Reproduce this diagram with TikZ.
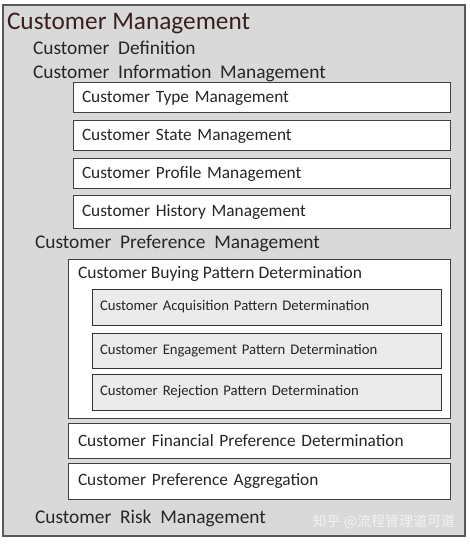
\documentclass[tikz,border=0pt]{standalone}
\usepackage{fontspec}
\setmainfont{Carlito}
\newfontfamily\cjk{Noto Sans CJK SC}
\definecolor{panelgray}{HTML}{D9D9D9}
\definecolor{subgray}{HTML}{EBEBEB}
\definecolor{titlered}{HTML}{3A1F1F}
\definecolor{inkgray}{HTML}{262626}
\begin{document}
\begin{tikzpicture}[x=1pt,y=-1pt,inner sep=0pt,outer sep=0pt,
lvlone/.style={anchor=west,text=inkgray,font=\fontsize{19.4}{22}\selectfont},
whitebox/.style={draw=black!75,fill=white,line width=1pt,anchor=north west,inner xsep=9pt,align=left,text=inkgray,font=\fontsize{17.3}{20}\selectfont},
graybox/.style={draw=black!80,fill=subgray,line width=1pt,anchor=north west,inner xsep=8pt,align=left,text=inkgray,font=\fontsize{14.7}{17}\selectfont}]

\useasboundingbox (0,0) rectangle (469,545);
\draw (3,5) node[draw=black!65,fill=panelgray,line width=1.5pt,anchor=north west,minimum width=462pt,minimum height=531pt] (panel) {};

\draw (7,23) node[anchor=west,text=titlered,font=\fontsize{25.3}{29}\selectfont] (title) {Customer Management};
\draw (33,48) node[lvlone] (def) {Customer\ \ Definition};
\draw (33,73) node[lvlone] (info) {Customer\ \ Information\ \ Management};

\draw (73,83) node[whitebox,text width=359pt,minimum height=30pt] (type) {Customer Type Management};
\draw (73,121) node[whitebox,text width=359pt,minimum height=30pt] (state) {Customer State Management};
\draw (73,159) node[whitebox,text width=359pt,minimum height=30pt] (profile) {Customer Profile Management};
\draw (73,196) node[whitebox,text width=359pt,minimum height=32pt] (history) {Customer History Management};

\draw (35,244) node[lvlone] (pref) {Customer\ \ Preference\ \ Management};

\draw (68,259) node[whitebox,text width=364pt,minimum height=159pt] (buybox) {};
\draw (78,274) node[anchor=west,text=inkgray,font=\fontsize{17.5}{20}\selectfont] (buying) {Customer Buying Pattern Determination};
\draw (92,289) node[graybox,text width=333pt,minimum height=36pt] (acq) {Customer\ Acquisition Pattern Determination};
\draw (92,333) node[graybox,text width=333pt,minimum height=35pt] (eng) {Customer\ Engagement Pattern Determination};
\draw (92,374) node[graybox,text width=333pt,minimum height=36pt] (rej) {Customer\ Rejection Pattern Determination};

\draw (68,423) node[whitebox,inner xsep=10pt,text width=362pt,minimum height=35pt] (fin) {Customer Financial Preference Determination};
\draw (68,463) node[whitebox,inner xsep=10pt,text width=362pt,minimum height=36pt] (agg) {Customer Preference Aggregation};

\draw (35,518) node[lvlone] (risk) {Customer\ \ Risk\ \ Management};

\draw (455,522) node[anchor=east,text=white!90!gray,font=\cjk\fontsize{14}{16}\selectfont] (mark) {知乎 @流程管理道可道};
\end{tikzpicture}
\end{document}
